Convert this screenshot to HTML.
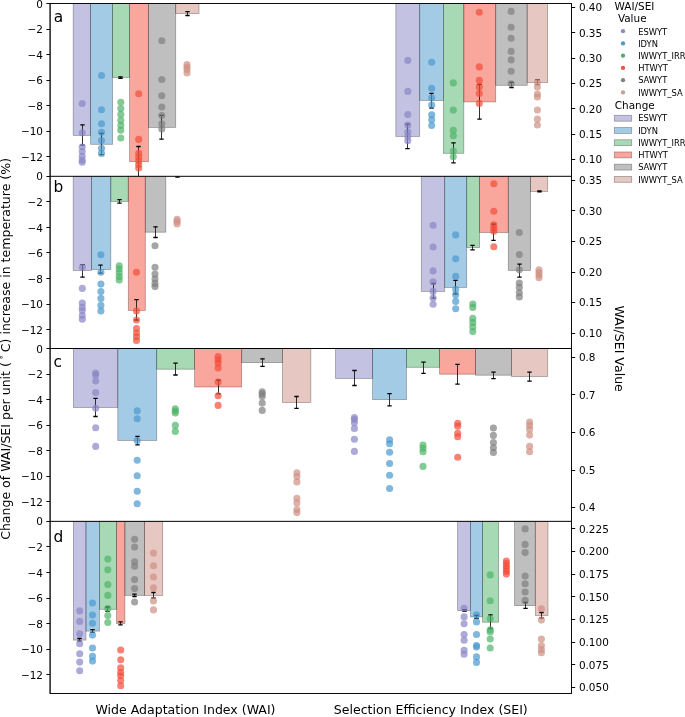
<!DOCTYPE html>
<html><head><meta charset="utf-8"><title>WAI/SEI change per unit temperature</title>
<style>html,body{margin:0;padding:0;background:#fff}svg{display:block}text{font-family:'DejaVu Sans','Liberation Sans',sans-serif;fill:#000}</style></head><body>
<svg width="685" height="717" viewBox="0 0 685 717">
<rect width="685" height="717" fill="#fff"/>
<clipPath id="cp0"><rect x="50.10" y="3.50" width="521.40" height="172.80"/></clipPath>
<g clip-path="url(#cp0)">
<rect x="73.20" y="3.50" width="17.40" height="131.90" fill="#8a86c6" fill-opacity="0.50" stroke="#000" stroke-opacity="0.33" stroke-width="0.8"/>
<rect x="90.60" y="3.50" width="22.00" height="140.80" fill="#4a98ce" fill-opacity="0.50" stroke="#000" stroke-opacity="0.33" stroke-width="0.8"/>
<rect x="112.60" y="3.50" width="17.00" height="74.00" fill="#4fb46a" fill-opacity="0.50" stroke="#000" stroke-opacity="0.33" stroke-width="0.8"/>
<rect x="129.60" y="3.50" width="18.80" height="158.20" fill="#f44d39" fill-opacity="0.50" stroke="#000" stroke-opacity="0.33" stroke-width="0.8"/>
<rect x="148.40" y="3.50" width="27.30" height="123.90" fill="#7f7f7f" fill-opacity="0.50" stroke="#000" stroke-opacity="0.33" stroke-width="0.8"/>
<rect x="175.70" y="3.50" width="23.30" height="10.00" fill="#cf9083" fill-opacity="0.50" stroke="#000" stroke-opacity="0.33" stroke-width="0.8"/>
<rect x="395.80" y="3.50" width="23.90" height="132.90" fill="#8a86c6" fill-opacity="0.50" stroke="#000" stroke-opacity="0.33" stroke-width="0.8"/>
<rect x="419.70" y="3.50" width="23.70" height="96.90" fill="#4a98ce" fill-opacity="0.50" stroke="#000" stroke-opacity="0.33" stroke-width="0.8"/>
<rect x="443.40" y="3.50" width="20.40" height="149.80" fill="#4fb46a" fill-opacity="0.50" stroke="#000" stroke-opacity="0.33" stroke-width="0.8"/>
<rect x="463.80" y="3.50" width="31.90" height="98.40" fill="#f44d39" fill-opacity="0.50" stroke="#000" stroke-opacity="0.33" stroke-width="0.8"/>
<rect x="495.70" y="3.50" width="31.50" height="81.80" fill="#7f7f7f" fill-opacity="0.50" stroke="#000" stroke-opacity="0.33" stroke-width="0.8"/>
<rect x="527.20" y="3.50" width="20.40" height="79.10" fill="#cf9083" fill-opacity="0.50" stroke="#000" stroke-opacity="0.33" stroke-width="0.8"/>
<path d="M82.50 124.90V145.20" stroke="#1a1a1a" stroke-width="0.9" fill="none"/>
<path d="M80.30 124.90h4.4M80.30 145.20h4.4" stroke="#000" stroke-width="1.3" fill="none"/>
<path d="M101.50 133.40V154.60" stroke="#1a1a1a" stroke-width="0.9" fill="none"/>
<path d="M99.30 133.40h4.4M99.30 154.60h4.4" stroke="#000" stroke-width="1.3" fill="none"/>
<path d="M120.50 76.80V78.40" stroke="#1a1a1a" stroke-width="0.9" fill="none"/>
<path d="M118.30 76.80h4.4M118.30 78.40h4.4" stroke="#000" stroke-width="1.3" fill="none"/>
<path d="M138.50 146.50V180.00" stroke="#1a1a1a" stroke-width="0.9" fill="none"/>
<path d="M136.30 146.50h4.4M136.30 180.00h4.4" stroke="#000" stroke-width="1.3" fill="none"/>
<path d="M161.50 115.30V139.20" stroke="#1a1a1a" stroke-width="0.9" fill="none"/>
<path d="M159.30 115.30h4.4M159.30 139.20h4.4" stroke="#000" stroke-width="1.3" fill="none"/>
<path d="M187.50 11.70V15.50" stroke="#1a1a1a" stroke-width="0.9" fill="none"/>
<path d="M185.30 11.70h4.4M185.30 15.50h4.4" stroke="#000" stroke-width="1.3" fill="none"/>
<path d="M407.50 124.10V148.60" stroke="#1a1a1a" stroke-width="0.9" fill="none"/>
<path d="M405.30 124.10h4.4M405.30 148.60h4.4" stroke="#000" stroke-width="1.3" fill="none"/>
<path d="M431.50 93.40V108.00" stroke="#1a1a1a" stroke-width="0.9" fill="none"/>
<path d="M429.30 93.40h4.4M429.30 108.00h4.4" stroke="#000" stroke-width="1.3" fill="none"/>
<path d="M453.50 142.80V162.90" stroke="#1a1a1a" stroke-width="0.9" fill="none"/>
<path d="M451.30 142.80h4.4M451.30 162.90h4.4" stroke="#000" stroke-width="1.3" fill="none"/>
<path d="M479.50 84.40V119.10" stroke="#1a1a1a" stroke-width="0.9" fill="none"/>
<path d="M477.30 84.40h4.4M477.30 119.10h4.4" stroke="#000" stroke-width="1.3" fill="none"/>
<path d="M511.50 82.30V87.60" stroke="#1a1a1a" stroke-width="0.9" fill="none"/>
<path d="M509.30 82.30h4.4M509.30 87.60h4.4" stroke="#000" stroke-width="1.3" fill="none"/>
<path d="M537.50 79.70V84.70" stroke="#1a1a1a" stroke-width="0.9" fill="none"/>
<path d="M535.30 79.70h4.4M535.30 84.70h4.4" stroke="#000" stroke-width="1.3" fill="none"/>
<circle cx="82.20" cy="103.50" r="3.55" fill="#8a86c6" fill-opacity="0.70"/>
<circle cx="82.20" cy="132.80" r="3.55" fill="#8a86c6" fill-opacity="0.70"/>
<circle cx="82.20" cy="147.00" r="3.55" fill="#8a86c6" fill-opacity="0.70"/>
<circle cx="82.20" cy="151.60" r="3.55" fill="#8a86c6" fill-opacity="0.70"/>
<circle cx="82.20" cy="156.20" r="3.55" fill="#8a86c6" fill-opacity="0.70"/>
<circle cx="82.20" cy="160.00" r="3.55" fill="#8a86c6" fill-opacity="0.70"/>
<circle cx="82.20" cy="162.30" r="3.55" fill="#8a86c6" fill-opacity="0.70"/>
<circle cx="101.50" cy="75.50" r="3.55" fill="#4a98ce" fill-opacity="0.70"/>
<circle cx="101.50" cy="109.70" r="3.55" fill="#4a98ce" fill-opacity="0.70"/>
<circle cx="101.50" cy="123.80" r="3.55" fill="#4a98ce" fill-opacity="0.70"/>
<circle cx="101.50" cy="132.30" r="3.55" fill="#4a98ce" fill-opacity="0.70"/>
<circle cx="101.50" cy="140.60" r="3.55" fill="#4a98ce" fill-opacity="0.70"/>
<circle cx="101.50" cy="148.20" r="3.55" fill="#4a98ce" fill-opacity="0.70"/>
<circle cx="101.50" cy="153.40" r="3.55" fill="#4a98ce" fill-opacity="0.70"/>
<circle cx="120.80" cy="102.30" r="3.55" fill="#4fb46a" fill-opacity="0.70"/>
<circle cx="120.80" cy="108.60" r="3.55" fill="#4fb46a" fill-opacity="0.70"/>
<circle cx="120.80" cy="114.40" r="3.55" fill="#4fb46a" fill-opacity="0.70"/>
<circle cx="120.80" cy="120.40" r="3.55" fill="#4fb46a" fill-opacity="0.70"/>
<circle cx="120.80" cy="125.60" r="3.55" fill="#4fb46a" fill-opacity="0.70"/>
<circle cx="120.80" cy="130.30" r="3.55" fill="#4fb46a" fill-opacity="0.70"/>
<circle cx="120.80" cy="138.00" r="3.55" fill="#4fb46a" fill-opacity="0.70"/>
<circle cx="138.70" cy="93.80" r="3.55" fill="#f44d39" fill-opacity="0.70"/>
<circle cx="138.70" cy="139.40" r="3.55" fill="#f44d39" fill-opacity="0.70"/>
<circle cx="138.70" cy="153.20" r="3.55" fill="#f44d39" fill-opacity="0.70"/>
<circle cx="138.70" cy="157.20" r="3.55" fill="#f44d39" fill-opacity="0.70"/>
<circle cx="138.70" cy="161.10" r="3.55" fill="#f44d39" fill-opacity="0.70"/>
<circle cx="138.70" cy="164.70" r="3.55" fill="#f44d39" fill-opacity="0.70"/>
<circle cx="138.70" cy="168.00" r="3.55" fill="#f44d39" fill-opacity="0.70"/>
<circle cx="161.80" cy="40.70" r="3.55" fill="#7f7f7f" fill-opacity="0.70"/>
<circle cx="161.80" cy="79.50" r="3.55" fill="#7f7f7f" fill-opacity="0.70"/>
<circle cx="161.80" cy="95.70" r="3.55" fill="#7f7f7f" fill-opacity="0.70"/>
<circle cx="161.80" cy="107.00" r="3.55" fill="#7f7f7f" fill-opacity="0.70"/>
<circle cx="161.80" cy="115.50" r="3.55" fill="#7f7f7f" fill-opacity="0.70"/>
<circle cx="161.80" cy="123.70" r="3.55" fill="#7f7f7f" fill-opacity="0.70"/>
<circle cx="161.80" cy="129.00" r="3.55" fill="#7f7f7f" fill-opacity="0.70"/>
<circle cx="187.00" cy="64.50" r="3.55" fill="#cf9083" fill-opacity="0.70"/>
<circle cx="187.00" cy="67.00" r="3.55" fill="#cf9083" fill-opacity="0.70"/>
<circle cx="187.00" cy="69.50" r="3.55" fill="#cf9083" fill-opacity="0.70"/>
<circle cx="187.00" cy="73.00" r="3.55" fill="#cf9083" fill-opacity="0.70"/>
<circle cx="407.80" cy="60.40" r="3.55" fill="#8a86c6" fill-opacity="0.70"/>
<circle cx="407.80" cy="91.40" r="3.55" fill="#8a86c6" fill-opacity="0.70"/>
<circle cx="407.80" cy="114.50" r="3.55" fill="#8a86c6" fill-opacity="0.70"/>
<circle cx="407.80" cy="125.00" r="3.55" fill="#8a86c6" fill-opacity="0.70"/>
<circle cx="407.80" cy="132.00" r="3.55" fill="#8a86c6" fill-opacity="0.70"/>
<circle cx="407.80" cy="136.60" r="3.55" fill="#8a86c6" fill-opacity="0.70"/>
<circle cx="407.80" cy="140.70" r="3.55" fill="#8a86c6" fill-opacity="0.70"/>
<circle cx="431.70" cy="62.20" r="3.55" fill="#4a98ce" fill-opacity="0.70"/>
<circle cx="431.70" cy="88.20" r="3.55" fill="#4a98ce" fill-opacity="0.70"/>
<circle cx="431.70" cy="97.80" r="3.55" fill="#4a98ce" fill-opacity="0.70"/>
<circle cx="431.70" cy="105.10" r="3.55" fill="#4a98ce" fill-opacity="0.70"/>
<circle cx="431.70" cy="114.70" r="3.55" fill="#4a98ce" fill-opacity="0.70"/>
<circle cx="431.70" cy="119.70" r="3.55" fill="#4a98ce" fill-opacity="0.70"/>
<circle cx="431.70" cy="125.50" r="3.55" fill="#4a98ce" fill-opacity="0.70"/>
<circle cx="453.30" cy="82.90" r="3.55" fill="#4fb46a" fill-opacity="0.70"/>
<circle cx="453.30" cy="110.10" r="3.55" fill="#4fb46a" fill-opacity="0.70"/>
<circle cx="453.30" cy="130.20" r="3.55" fill="#4fb46a" fill-opacity="0.70"/>
<circle cx="453.30" cy="135.80" r="3.55" fill="#4fb46a" fill-opacity="0.70"/>
<circle cx="453.30" cy="151.00" r="3.55" fill="#4fb46a" fill-opacity="0.70"/>
<circle cx="453.30" cy="156.80" r="3.55" fill="#4fb46a" fill-opacity="0.70"/>
<circle cx="479.30" cy="12.30" r="3.55" fill="#f44d39" fill-opacity="0.70"/>
<circle cx="479.30" cy="66.90" r="3.55" fill="#f44d39" fill-opacity="0.70"/>
<circle cx="479.30" cy="80.30" r="3.55" fill="#f44d39" fill-opacity="0.70"/>
<circle cx="479.30" cy="86.70" r="3.55" fill="#f44d39" fill-opacity="0.70"/>
<circle cx="479.30" cy="93.40" r="3.55" fill="#f44d39" fill-opacity="0.70"/>
<circle cx="479.30" cy="103.40" r="3.55" fill="#f44d39" fill-opacity="0.70"/>
<circle cx="511.10" cy="11.40" r="3.55" fill="#7f7f7f" fill-opacity="0.70"/>
<circle cx="511.10" cy="27.20" r="3.55" fill="#7f7f7f" fill-opacity="0.70"/>
<circle cx="511.10" cy="38.20" r="3.55" fill="#7f7f7f" fill-opacity="0.70"/>
<circle cx="511.10" cy="51.40" r="3.55" fill="#7f7f7f" fill-opacity="0.70"/>
<circle cx="511.10" cy="59.90" r="3.55" fill="#7f7f7f" fill-opacity="0.70"/>
<circle cx="511.10" cy="71.20" r="3.55" fill="#7f7f7f" fill-opacity="0.70"/>
<circle cx="511.10" cy="83.80" r="3.55" fill="#7f7f7f" fill-opacity="0.70"/>
<circle cx="537.40" cy="82.30" r="3.55" fill="#cf9083" fill-opacity="0.70"/>
<circle cx="537.40" cy="87.00" r="3.55" fill="#cf9083" fill-opacity="0.70"/>
<circle cx="537.40" cy="94.00" r="3.55" fill="#cf9083" fill-opacity="0.70"/>
<circle cx="537.40" cy="97.00" r="3.55" fill="#cf9083" fill-opacity="0.70"/>
<circle cx="537.40" cy="110.00" r="3.55" fill="#cf9083" fill-opacity="0.70"/>
<circle cx="537.40" cy="119.10" r="3.55" fill="#cf9083" fill-opacity="0.70"/>
<circle cx="537.40" cy="125.00" r="3.55" fill="#cf9083" fill-opacity="0.70"/>
</g>
<clipPath id="cp1"><rect x="50.10" y="176.30" width="521.40" height="172.20"/></clipPath>
<g clip-path="url(#cp1)">
<rect x="73.20" y="176.30" width="18.20" height="94.10" fill="#8a86c6" fill-opacity="0.50" stroke="#000" stroke-opacity="0.33" stroke-width="0.8"/>
<rect x="91.40" y="176.30" width="19.40" height="93.20" fill="#4a98ce" fill-opacity="0.50" stroke="#000" stroke-opacity="0.33" stroke-width="0.8"/>
<rect x="110.80" y="176.30" width="17.50" height="25.20" fill="#4fb46a" fill-opacity="0.50" stroke="#000" stroke-opacity="0.33" stroke-width="0.8"/>
<rect x="128.30" y="176.30" width="17.00" height="134.10" fill="#f44d39" fill-opacity="0.50" stroke="#000" stroke-opacity="0.33" stroke-width="0.8"/>
<rect x="145.30" y="176.30" width="20.50" height="55.90" fill="#7f7f7f" fill-opacity="0.50" stroke="#000" stroke-opacity="0.33" stroke-width="0.8"/>
<rect x="165.80" y="176.30" width="22.60" height="0.00" fill="#cf9083" fill-opacity="0.50" stroke="#000" stroke-opacity="0.33" stroke-width="0.8"/>
<rect x="421.30" y="176.30" width="23.40" height="115.10" fill="#8a86c6" fill-opacity="0.50" stroke="#000" stroke-opacity="0.33" stroke-width="0.8"/>
<rect x="444.70" y="176.30" width="22.00" height="111.10" fill="#4a98ce" fill-opacity="0.50" stroke="#000" stroke-opacity="0.33" stroke-width="0.8"/>
<rect x="466.70" y="176.30" width="12.90" height="71.20" fill="#4fb46a" fill-opacity="0.50" stroke="#000" stroke-opacity="0.33" stroke-width="0.8"/>
<rect x="479.60" y="176.30" width="28.70" height="56.20" fill="#f44d39" fill-opacity="0.50" stroke="#000" stroke-opacity="0.33" stroke-width="0.8"/>
<rect x="508.30" y="176.30" width="22.30" height="94.10" fill="#7f7f7f" fill-opacity="0.50" stroke="#000" stroke-opacity="0.33" stroke-width="0.8"/>
<rect x="530.60" y="176.30" width="17.10" height="15.20" fill="#cf9083" fill-opacity="0.50" stroke="#000" stroke-opacity="0.33" stroke-width="0.8"/>
<path d="M82.50 264.60V277.10" stroke="#1a1a1a" stroke-width="0.9" fill="none"/>
<path d="M80.30 264.60h4.4M80.30 277.10h4.4" stroke="#000" stroke-width="1.3" fill="none"/>
<path d="M100.50 265.10V273.10" stroke="#1a1a1a" stroke-width="0.9" fill="none"/>
<path d="M98.30 265.10h4.4M98.30 273.10h4.4" stroke="#000" stroke-width="1.3" fill="none"/>
<path d="M119.50 199.60V203.10" stroke="#1a1a1a" stroke-width="0.9" fill="none"/>
<path d="M117.30 199.60h4.4M117.30 203.10h4.4" stroke="#000" stroke-width="1.3" fill="none"/>
<path d="M136.50 299.70V320.00" stroke="#1a1a1a" stroke-width="0.9" fill="none"/>
<path d="M134.30 299.70h4.4M134.30 320.00h4.4" stroke="#000" stroke-width="1.3" fill="none"/>
<path d="M155.50 226.90V237.50" stroke="#1a1a1a" stroke-width="0.9" fill="none"/>
<path d="M153.30 226.90h4.4M153.30 237.50h4.4" stroke="#000" stroke-width="1.3" fill="none"/>
<path d="M177.50 175.50V177.20" stroke="#1a1a1a" stroke-width="0.9" fill="none"/>
<path d="M175.30 175.50h4.4M175.30 177.20h4.4" stroke="#000" stroke-width="1.3" fill="none"/>
<path d="M433.50 283.50V298.20" stroke="#1a1a1a" stroke-width="0.9" fill="none"/>
<path d="M431.30 283.50h4.4M431.30 298.20h4.4" stroke="#000" stroke-width="1.3" fill="none"/>
<path d="M455.50 280.40V294.00" stroke="#1a1a1a" stroke-width="0.9" fill="none"/>
<path d="M453.30 280.40h4.4M453.30 294.00h4.4" stroke="#000" stroke-width="1.3" fill="none"/>
<path d="M472.50 245.40V249.90" stroke="#1a1a1a" stroke-width="0.9" fill="none"/>
<path d="M470.30 245.40h4.4M470.30 249.90h4.4" stroke="#000" stroke-width="1.3" fill="none"/>
<path d="M493.50 224.10V240.40" stroke="#1a1a1a" stroke-width="0.9" fill="none"/>
<path d="M491.30 224.10h4.4M491.30 240.40h4.4" stroke="#000" stroke-width="1.3" fill="none"/>
<path d="M519.50 264.10V277.20" stroke="#1a1a1a" stroke-width="0.9" fill="none"/>
<path d="M517.30 264.10h4.4M517.30 277.20h4.4" stroke="#000" stroke-width="1.3" fill="none"/>
<path d="M539.50 191.00V191.90" stroke="#1a1a1a" stroke-width="0.9" fill="none"/>
<path d="M537.30 191.00h4.4M537.30 191.90h4.4" stroke="#000" stroke-width="1.3" fill="none"/>
<circle cx="82.30" cy="267.30" r="3.55" fill="#8a86c6" fill-opacity="0.70"/>
<circle cx="82.30" cy="288.40" r="3.55" fill="#8a86c6" fill-opacity="0.70"/>
<circle cx="82.30" cy="303.00" r="3.55" fill="#8a86c6" fill-opacity="0.70"/>
<circle cx="82.30" cy="307.40" r="3.55" fill="#8a86c6" fill-opacity="0.70"/>
<circle cx="82.30" cy="310.50" r="3.55" fill="#8a86c6" fill-opacity="0.70"/>
<circle cx="82.30" cy="315.50" r="3.55" fill="#8a86c6" fill-opacity="0.70"/>
<circle cx="82.30" cy="319.20" r="3.55" fill="#8a86c6" fill-opacity="0.70"/>
<circle cx="100.90" cy="254.80" r="3.55" fill="#4a98ce" fill-opacity="0.70"/>
<circle cx="100.90" cy="272.30" r="3.55" fill="#4a98ce" fill-opacity="0.70"/>
<circle cx="100.90" cy="284.10" r="3.55" fill="#4a98ce" fill-opacity="0.70"/>
<circle cx="100.90" cy="291.60" r="3.55" fill="#4a98ce" fill-opacity="0.70"/>
<circle cx="100.90" cy="298.40" r="3.55" fill="#4a98ce" fill-opacity="0.70"/>
<circle cx="100.90" cy="305.40" r="3.55" fill="#4a98ce" fill-opacity="0.70"/>
<circle cx="100.90" cy="311.00" r="3.55" fill="#4a98ce" fill-opacity="0.70"/>
<circle cx="119.20" cy="265.80" r="3.55" fill="#4fb46a" fill-opacity="0.70"/>
<circle cx="119.20" cy="269.00" r="3.55" fill="#4fb46a" fill-opacity="0.70"/>
<circle cx="119.20" cy="272.80" r="3.55" fill="#4fb46a" fill-opacity="0.70"/>
<circle cx="119.20" cy="276.60" r="3.55" fill="#4fb46a" fill-opacity="0.70"/>
<circle cx="119.20" cy="279.90" r="3.55" fill="#4fb46a" fill-opacity="0.70"/>
<circle cx="136.50" cy="272.30" r="3.55" fill="#f44d39" fill-opacity="0.70"/>
<circle cx="136.50" cy="311.00" r="3.55" fill="#f44d39" fill-opacity="0.70"/>
<circle cx="136.50" cy="320.00" r="3.55" fill="#f44d39" fill-opacity="0.70"/>
<circle cx="136.50" cy="328.50" r="3.55" fill="#f44d39" fill-opacity="0.70"/>
<circle cx="136.50" cy="333.00" r="3.55" fill="#f44d39" fill-opacity="0.70"/>
<circle cx="136.50" cy="336.80" r="3.55" fill="#f44d39" fill-opacity="0.70"/>
<circle cx="136.50" cy="340.50" r="3.55" fill="#f44d39" fill-opacity="0.70"/>
<circle cx="155.00" cy="245.70" r="3.55" fill="#7f7f7f" fill-opacity="0.70"/>
<circle cx="155.00" cy="267.30" r="3.55" fill="#7f7f7f" fill-opacity="0.70"/>
<circle cx="155.00" cy="274.10" r="3.55" fill="#7f7f7f" fill-opacity="0.70"/>
<circle cx="155.00" cy="279.10" r="3.55" fill="#7f7f7f" fill-opacity="0.70"/>
<circle cx="155.00" cy="283.40" r="3.55" fill="#7f7f7f" fill-opacity="0.70"/>
<circle cx="155.00" cy="286.60" r="3.55" fill="#7f7f7f" fill-opacity="0.70"/>
<circle cx="177.10" cy="219.40" r="3.55" fill="#cf9083" fill-opacity="0.70"/>
<circle cx="177.10" cy="221.40" r="3.55" fill="#cf9083" fill-opacity="0.70"/>
<circle cx="177.10" cy="223.90" r="3.55" fill="#cf9083" fill-opacity="0.70"/>
<circle cx="433.10" cy="225.20" r="3.55" fill="#8a86c6" fill-opacity="0.70"/>
<circle cx="433.10" cy="247.00" r="3.55" fill="#8a86c6" fill-opacity="0.70"/>
<circle cx="433.10" cy="270.90" r="3.55" fill="#8a86c6" fill-opacity="0.70"/>
<circle cx="433.10" cy="281.70" r="3.55" fill="#8a86c6" fill-opacity="0.70"/>
<circle cx="433.10" cy="291.40" r="3.55" fill="#8a86c6" fill-opacity="0.70"/>
<circle cx="433.10" cy="298.00" r="3.55" fill="#8a86c6" fill-opacity="0.70"/>
<circle cx="433.10" cy="304.30" r="3.55" fill="#8a86c6" fill-opacity="0.70"/>
<circle cx="455.70" cy="234.90" r="3.55" fill="#4a98ce" fill-opacity="0.70"/>
<circle cx="455.70" cy="258.80" r="3.55" fill="#4a98ce" fill-opacity="0.70"/>
<circle cx="455.70" cy="276.40" r="3.55" fill="#4a98ce" fill-opacity="0.70"/>
<circle cx="455.70" cy="289.50" r="3.55" fill="#4a98ce" fill-opacity="0.70"/>
<circle cx="455.70" cy="294.80" r="3.55" fill="#4a98ce" fill-opacity="0.70"/>
<circle cx="455.70" cy="301.40" r="3.55" fill="#4a98ce" fill-opacity="0.70"/>
<circle cx="455.70" cy="308.70" r="3.55" fill="#4a98ce" fill-opacity="0.70"/>
<circle cx="472.80" cy="304.00" r="3.55" fill="#4fb46a" fill-opacity="0.70"/>
<circle cx="472.80" cy="307.40" r="3.55" fill="#4fb46a" fill-opacity="0.70"/>
<circle cx="472.80" cy="318.40" r="3.55" fill="#4fb46a" fill-opacity="0.70"/>
<circle cx="472.80" cy="322.40" r="3.55" fill="#4fb46a" fill-opacity="0.70"/>
<circle cx="472.80" cy="326.90" r="3.55" fill="#4fb46a" fill-opacity="0.70"/>
<circle cx="472.80" cy="331.60" r="3.55" fill="#4fb46a" fill-opacity="0.70"/>
<circle cx="493.80" cy="183.70" r="3.55" fill="#f44d39" fill-opacity="0.70"/>
<circle cx="493.80" cy="211.30" r="3.55" fill="#f44d39" fill-opacity="0.70"/>
<circle cx="493.80" cy="224.70" r="3.55" fill="#f44d39" fill-opacity="0.70"/>
<circle cx="493.80" cy="228.30" r="3.55" fill="#f44d39" fill-opacity="0.70"/>
<circle cx="493.80" cy="231.20" r="3.55" fill="#f44d39" fill-opacity="0.70"/>
<circle cx="493.80" cy="246.70" r="3.55" fill="#f44d39" fill-opacity="0.70"/>
<circle cx="519.30" cy="232.50" r="3.55" fill="#7f7f7f" fill-opacity="0.70"/>
<circle cx="519.30" cy="254.60" r="3.55" fill="#7f7f7f" fill-opacity="0.70"/>
<circle cx="519.30" cy="269.80" r="3.55" fill="#7f7f7f" fill-opacity="0.70"/>
<circle cx="519.30" cy="283.00" r="3.55" fill="#7f7f7f" fill-opacity="0.70"/>
<circle cx="519.30" cy="287.40" r="3.55" fill="#7f7f7f" fill-opacity="0.70"/>
<circle cx="519.30" cy="292.70" r="3.55" fill="#7f7f7f" fill-opacity="0.70"/>
<circle cx="519.30" cy="296.90" r="3.55" fill="#7f7f7f" fill-opacity="0.70"/>
<circle cx="539.00" cy="269.80" r="3.55" fill="#cf9083" fill-opacity="0.70"/>
<circle cx="539.00" cy="272.50" r="3.55" fill="#cf9083" fill-opacity="0.70"/>
<circle cx="539.00" cy="275.10" r="3.55" fill="#cf9083" fill-opacity="0.70"/>
<circle cx="539.00" cy="277.70" r="3.55" fill="#cf9083" fill-opacity="0.70"/>
</g>
<clipPath id="cp2"><rect x="50.10" y="348.50" width="521.40" height="172.85"/></clipPath>
<g clip-path="url(#cp2)">
<rect x="73.40" y="348.50" width="44.40" height="59.00" fill="#8a86c6" fill-opacity="0.50" stroke="#000" stroke-opacity="0.33" stroke-width="0.8"/>
<rect x="117.80" y="348.50" width="38.90" height="91.90" fill="#4a98ce" fill-opacity="0.50" stroke="#000" stroke-opacity="0.33" stroke-width="0.8"/>
<rect x="156.70" y="348.50" width="37.90" height="20.70" fill="#4fb46a" fill-opacity="0.50" stroke="#000" stroke-opacity="0.33" stroke-width="0.8"/>
<rect x="194.60" y="348.50" width="47.10" height="38.50" fill="#f44d39" fill-opacity="0.50" stroke="#000" stroke-opacity="0.33" stroke-width="0.8"/>
<rect x="241.70" y="348.50" width="40.80" height="14.10" fill="#7f7f7f" fill-opacity="0.50" stroke="#000" stroke-opacity="0.33" stroke-width="0.8"/>
<rect x="282.50" y="348.50" width="28.30" height="54.00" fill="#cf9083" fill-opacity="0.50" stroke="#000" stroke-opacity="0.33" stroke-width="0.8"/>
<rect x="335.50" y="348.50" width="37.10" height="29.90" fill="#8a86c6" fill-opacity="0.50" stroke="#000" stroke-opacity="0.33" stroke-width="0.8"/>
<rect x="372.60" y="348.50" width="33.80" height="51.10" fill="#4a98ce" fill-opacity="0.50" stroke="#000" stroke-opacity="0.33" stroke-width="0.8"/>
<rect x="406.40" y="348.50" width="33.20" height="18.80" fill="#4fb46a" fill-opacity="0.50" stroke="#000" stroke-opacity="0.33" stroke-width="0.8"/>
<rect x="439.60" y="348.50" width="36.00" height="25.70" fill="#f44d39" fill-opacity="0.50" stroke="#000" stroke-opacity="0.33" stroke-width="0.8"/>
<rect x="475.60" y="348.50" width="35.90" height="26.70" fill="#7f7f7f" fill-opacity="0.50" stroke="#000" stroke-opacity="0.33" stroke-width="0.8"/>
<rect x="511.50" y="348.50" width="36.20" height="28.00" fill="#cf9083" fill-opacity="0.50" stroke="#000" stroke-opacity="0.33" stroke-width="0.8"/>
<path d="M95.50 398.30V416.50" stroke="#1a1a1a" stroke-width="0.9" fill="none"/>
<path d="M93.30 398.30h4.4M93.30 416.50h4.4" stroke="#000" stroke-width="1.3" fill="none"/>
<path d="M137.50 436.40V444.80" stroke="#1a1a1a" stroke-width="0.9" fill="none"/>
<path d="M135.30 436.40h4.4M135.30 444.80h4.4" stroke="#000" stroke-width="1.3" fill="none"/>
<path d="M175.50 363.10V375.00" stroke="#1a1a1a" stroke-width="0.9" fill="none"/>
<path d="M173.30 363.10h4.4M173.30 375.00h4.4" stroke="#000" stroke-width="1.3" fill="none"/>
<path d="M218.50 380.20V393.90" stroke="#1a1a1a" stroke-width="0.9" fill="none"/>
<path d="M216.30 380.20h4.4M216.30 393.90h4.4" stroke="#000" stroke-width="1.3" fill="none"/>
<path d="M262.50 358.90V366.30" stroke="#1a1a1a" stroke-width="0.9" fill="none"/>
<path d="M260.30 358.90h4.4M260.30 366.30h4.4" stroke="#000" stroke-width="1.3" fill="none"/>
<path d="M296.50 396.50V408.30" stroke="#1a1a1a" stroke-width="0.9" fill="none"/>
<path d="M294.30 396.50h4.4M294.30 408.30h4.4" stroke="#000" stroke-width="1.3" fill="none"/>
<path d="M354.50 370.50V385.50" stroke="#1a1a1a" stroke-width="0.9" fill="none"/>
<path d="M352.30 370.50h4.4M352.30 385.50h4.4" stroke="#000" stroke-width="1.3" fill="none"/>
<path d="M389.50 393.60V405.90" stroke="#1a1a1a" stroke-width="0.9" fill="none"/>
<path d="M387.30 393.60h4.4M387.30 405.90h4.4" stroke="#000" stroke-width="1.3" fill="none"/>
<path d="M423.50 362.10V373.40" stroke="#1a1a1a" stroke-width="0.9" fill="none"/>
<path d="M421.30 362.10h4.4M421.30 373.40h4.4" stroke="#000" stroke-width="1.3" fill="none"/>
<path d="M457.50 364.40V384.10" stroke="#1a1a1a" stroke-width="0.9" fill="none"/>
<path d="M455.30 364.40h4.4M455.30 384.10h4.4" stroke="#000" stroke-width="1.3" fill="none"/>
<path d="M493.50 372.10V378.60" stroke="#1a1a1a" stroke-width="0.9" fill="none"/>
<path d="M491.30 372.10h4.4M491.30 378.60h4.4" stroke="#000" stroke-width="1.3" fill="none"/>
<path d="M529.50 372.10V381.20" stroke="#1a1a1a" stroke-width="0.9" fill="none"/>
<path d="M527.30 372.10h4.4M527.30 381.20h4.4" stroke="#000" stroke-width="1.3" fill="none"/>
<circle cx="95.70" cy="373.10" r="3.55" fill="#8a86c6" fill-opacity="0.70"/>
<circle cx="95.70" cy="375.00" r="3.55" fill="#8a86c6" fill-opacity="0.70"/>
<circle cx="95.70" cy="381.00" r="3.55" fill="#8a86c6" fill-opacity="0.70"/>
<circle cx="95.70" cy="392.50" r="3.55" fill="#8a86c6" fill-opacity="0.70"/>
<circle cx="95.70" cy="408.30" r="3.55" fill="#8a86c6" fill-opacity="0.70"/>
<circle cx="95.70" cy="427.80" r="3.55" fill="#8a86c6" fill-opacity="0.70"/>
<circle cx="95.70" cy="446.40" r="3.55" fill="#8a86c6" fill-opacity="0.70"/>
<circle cx="137.20" cy="410.90" r="3.55" fill="#4a98ce" fill-opacity="0.70"/>
<circle cx="137.20" cy="418.80" r="3.55" fill="#4a98ce" fill-opacity="0.70"/>
<circle cx="137.20" cy="440.60" r="3.55" fill="#4a98ce" fill-opacity="0.70"/>
<circle cx="137.20" cy="460.30" r="3.55" fill="#4a98ce" fill-opacity="0.70"/>
<circle cx="137.20" cy="475.80" r="3.55" fill="#4a98ce" fill-opacity="0.70"/>
<circle cx="137.20" cy="491.30" r="3.55" fill="#4a98ce" fill-opacity="0.70"/>
<circle cx="137.20" cy="503.70" r="3.55" fill="#4a98ce" fill-opacity="0.70"/>
<circle cx="175.30" cy="408.80" r="3.55" fill="#4fb46a" fill-opacity="0.70"/>
<circle cx="175.30" cy="411.00" r="3.55" fill="#4fb46a" fill-opacity="0.70"/>
<circle cx="175.30" cy="413.00" r="3.55" fill="#4fb46a" fill-opacity="0.70"/>
<circle cx="175.30" cy="425.40" r="3.55" fill="#4fb46a" fill-opacity="0.70"/>
<circle cx="175.30" cy="431.40" r="3.55" fill="#4fb46a" fill-opacity="0.70"/>
<circle cx="218.10" cy="356.60" r="3.55" fill="#f44d39" fill-opacity="0.70"/>
<circle cx="218.10" cy="359.70" r="3.55" fill="#f44d39" fill-opacity="0.70"/>
<circle cx="218.10" cy="363.10" r="3.55" fill="#f44d39" fill-opacity="0.70"/>
<circle cx="218.10" cy="367.90" r="3.55" fill="#f44d39" fill-opacity="0.70"/>
<circle cx="218.10" cy="382.00" r="3.55" fill="#f44d39" fill-opacity="0.70"/>
<circle cx="218.10" cy="395.70" r="3.55" fill="#f44d39" fill-opacity="0.70"/>
<circle cx="218.10" cy="405.40" r="3.55" fill="#f44d39" fill-opacity="0.70"/>
<circle cx="262.20" cy="391.80" r="3.55" fill="#7f7f7f" fill-opacity="0.70"/>
<circle cx="262.20" cy="393.90" r="3.55" fill="#7f7f7f" fill-opacity="0.70"/>
<circle cx="262.20" cy="396.50" r="3.55" fill="#7f7f7f" fill-opacity="0.70"/>
<circle cx="262.20" cy="403.10" r="3.55" fill="#7f7f7f" fill-opacity="0.70"/>
<circle cx="262.20" cy="410.40" r="3.55" fill="#7f7f7f" fill-opacity="0.70"/>
<circle cx="296.90" cy="472.70" r="3.55" fill="#cf9083" fill-opacity="0.70"/>
<circle cx="296.90" cy="476.60" r="3.55" fill="#cf9083" fill-opacity="0.70"/>
<circle cx="296.90" cy="481.90" r="3.55" fill="#cf9083" fill-opacity="0.70"/>
<circle cx="296.90" cy="498.20" r="3.55" fill="#cf9083" fill-opacity="0.70"/>
<circle cx="296.90" cy="502.90" r="3.55" fill="#cf9083" fill-opacity="0.70"/>
<circle cx="296.90" cy="509.50" r="3.55" fill="#cf9083" fill-opacity="0.70"/>
<circle cx="296.90" cy="512.60" r="3.55" fill="#cf9083" fill-opacity="0.70"/>
<circle cx="354.40" cy="417.50" r="3.55" fill="#8a86c6" fill-opacity="0.70"/>
<circle cx="354.40" cy="419.60" r="3.55" fill="#8a86c6" fill-opacity="0.70"/>
<circle cx="354.40" cy="422.80" r="3.55" fill="#8a86c6" fill-opacity="0.70"/>
<circle cx="354.40" cy="428.50" r="3.55" fill="#8a86c6" fill-opacity="0.70"/>
<circle cx="354.40" cy="439.30" r="3.55" fill="#8a86c6" fill-opacity="0.70"/>
<circle cx="354.40" cy="451.40" r="3.55" fill="#8a86c6" fill-opacity="0.70"/>
<circle cx="389.60" cy="439.80" r="3.55" fill="#4a98ce" fill-opacity="0.70"/>
<circle cx="389.60" cy="443.80" r="3.55" fill="#4a98ce" fill-opacity="0.70"/>
<circle cx="389.60" cy="452.20" r="3.55" fill="#4a98ce" fill-opacity="0.70"/>
<circle cx="389.60" cy="463.50" r="3.55" fill="#4a98ce" fill-opacity="0.70"/>
<circle cx="389.60" cy="475.30" r="3.55" fill="#4a98ce" fill-opacity="0.70"/>
<circle cx="389.60" cy="488.50" r="3.55" fill="#4a98ce" fill-opacity="0.70"/>
<circle cx="423.00" cy="445.10" r="3.55" fill="#4fb46a" fill-opacity="0.70"/>
<circle cx="423.00" cy="448.30" r="3.55" fill="#4fb46a" fill-opacity="0.70"/>
<circle cx="423.00" cy="451.70" r="3.55" fill="#4fb46a" fill-opacity="0.70"/>
<circle cx="423.00" cy="466.40" r="3.55" fill="#4fb46a" fill-opacity="0.70"/>
<circle cx="457.70" cy="423.30" r="3.55" fill="#f44d39" fill-opacity="0.70"/>
<circle cx="457.70" cy="426.20" r="3.55" fill="#f44d39" fill-opacity="0.70"/>
<circle cx="457.70" cy="433.30" r="3.55" fill="#f44d39" fill-opacity="0.70"/>
<circle cx="457.70" cy="436.70" r="3.55" fill="#f44d39" fill-opacity="0.70"/>
<circle cx="457.70" cy="457.20" r="3.55" fill="#f44d39" fill-opacity="0.70"/>
<circle cx="493.40" cy="428.00" r="3.55" fill="#7f7f7f" fill-opacity="0.70"/>
<circle cx="493.40" cy="435.40" r="3.55" fill="#7f7f7f" fill-opacity="0.70"/>
<circle cx="493.40" cy="442.50" r="3.55" fill="#7f7f7f" fill-opacity="0.70"/>
<circle cx="493.40" cy="447.70" r="3.55" fill="#7f7f7f" fill-opacity="0.70"/>
<circle cx="493.40" cy="452.50" r="3.55" fill="#7f7f7f" fill-opacity="0.70"/>
<circle cx="529.60" cy="422.00" r="3.55" fill="#cf9083" fill-opacity="0.70"/>
<circle cx="529.60" cy="425.40" r="3.55" fill="#cf9083" fill-opacity="0.70"/>
<circle cx="529.60" cy="429.30" r="3.55" fill="#cf9083" fill-opacity="0.70"/>
<circle cx="529.60" cy="435.10" r="3.55" fill="#cf9083" fill-opacity="0.70"/>
<circle cx="529.60" cy="446.40" r="3.55" fill="#cf9083" fill-opacity="0.70"/>
<circle cx="529.60" cy="451.70" r="3.55" fill="#cf9083" fill-opacity="0.70"/>
</g>
<clipPath id="cp3"><rect x="50.10" y="521.35" width="521.40" height="172.15"/></clipPath>
<g clip-path="url(#cp3)">
<rect x="73.40" y="521.35" width="12.60" height="118.75" fill="#8a86c6" fill-opacity="0.50" stroke="#000" stroke-opacity="0.33" stroke-width="0.8"/>
<rect x="86.00" y="521.35" width="13.40" height="109.75" fill="#4a98ce" fill-opacity="0.50" stroke="#000" stroke-opacity="0.33" stroke-width="0.8"/>
<rect x="99.40" y="521.35" width="17.10" height="87.95" fill="#4fb46a" fill-opacity="0.50" stroke="#000" stroke-opacity="0.33" stroke-width="0.8"/>
<rect x="116.50" y="521.35" width="8.40" height="102.15" fill="#f44d39" fill-opacity="0.50" stroke="#000" stroke-opacity="0.33" stroke-width="0.8"/>
<rect x="124.90" y="521.35" width="19.70" height="74.05" fill="#7f7f7f" fill-opacity="0.50" stroke="#000" stroke-opacity="0.33" stroke-width="0.8"/>
<rect x="144.60" y="521.35" width="18.10" height="74.05" fill="#cf9083" fill-opacity="0.50" stroke="#000" stroke-opacity="0.33" stroke-width="0.8"/>
<rect x="457.60" y="521.35" width="12.80" height="89.25" fill="#8a86c6" fill-opacity="0.50" stroke="#000" stroke-opacity="0.33" stroke-width="0.8"/>
<rect x="470.40" y="521.35" width="12.10" height="95.55" fill="#4a98ce" fill-opacity="0.50" stroke="#000" stroke-opacity="0.33" stroke-width="0.8"/>
<rect x="482.50" y="521.35" width="16.10" height="100.85" fill="#4fb46a" fill-opacity="0.50" stroke="#000" stroke-opacity="0.33" stroke-width="0.8"/>
<rect x="514.60" y="521.35" width="20.70" height="84.25" fill="#7f7f7f" fill-opacity="0.50" stroke="#000" stroke-opacity="0.33" stroke-width="0.8"/>
<rect x="535.30" y="521.35" width="12.70" height="94.05" fill="#cf9083" fill-opacity="0.50" stroke="#000" stroke-opacity="0.33" stroke-width="0.8"/>
<path d="M79.50 638.50V641.10" stroke="#1a1a1a" stroke-width="0.9" fill="none"/>
<path d="M77.30 638.50h4.4M77.30 641.10h4.4" stroke="#000" stroke-width="1.3" fill="none"/>
<path d="M92.50 629.60V632.40" stroke="#1a1a1a" stroke-width="0.9" fill="none"/>
<path d="M90.30 629.60h4.4M90.30 632.40h4.4" stroke="#000" stroke-width="1.3" fill="none"/>
<path d="M107.50 607.00V611.40" stroke="#1a1a1a" stroke-width="0.9" fill="none"/>
<path d="M105.30 607.00h4.4M105.30 611.40h4.4" stroke="#000" stroke-width="1.3" fill="none"/>
<path d="M120.50 621.90V624.80" stroke="#1a1a1a" stroke-width="0.9" fill="none"/>
<path d="M118.30 621.90h4.4M118.30 624.80h4.4" stroke="#000" stroke-width="1.3" fill="none"/>
<path d="M134.50 594.10V596.50" stroke="#1a1a1a" stroke-width="0.9" fill="none"/>
<path d="M132.30 594.10h4.4M132.30 596.50h4.4" stroke="#000" stroke-width="1.3" fill="none"/>
<path d="M153.50 592.50V598.00" stroke="#1a1a1a" stroke-width="0.9" fill="none"/>
<path d="M151.30 592.50h4.4M151.30 598.00h4.4" stroke="#000" stroke-width="1.3" fill="none"/>
<path d="M464.50 609.60V611.40" stroke="#1a1a1a" stroke-width="0.9" fill="none"/>
<path d="M462.30 609.60h4.4M462.30 611.40h4.4" stroke="#000" stroke-width="1.3" fill="none"/>
<path d="M476.50 615.40V618.30" stroke="#1a1a1a" stroke-width="0.9" fill="none"/>
<path d="M474.30 615.40h4.4M474.30 618.30h4.4" stroke="#000" stroke-width="1.3" fill="none"/>
<path d="M490.50 614.80V628.50" stroke="#1a1a1a" stroke-width="0.9" fill="none"/>
<path d="M488.30 614.80h4.4M488.30 628.50h4.4" stroke="#000" stroke-width="1.3" fill="none"/>
<path d="M525.50 602.50V608.30" stroke="#1a1a1a" stroke-width="0.9" fill="none"/>
<path d="M523.30 602.50h4.4M523.30 608.30h4.4" stroke="#000" stroke-width="1.3" fill="none"/>
<path d="M541.50 612.50V618.00" stroke="#1a1a1a" stroke-width="0.9" fill="none"/>
<path d="M539.30 612.50h4.4M539.30 618.00h4.4" stroke="#000" stroke-width="1.3" fill="none"/>
<circle cx="79.70" cy="610.90" r="3.55" fill="#8a86c6" fill-opacity="0.70"/>
<circle cx="79.70" cy="621.40" r="3.55" fill="#8a86c6" fill-opacity="0.70"/>
<circle cx="79.70" cy="633.80" r="3.55" fill="#8a86c6" fill-opacity="0.70"/>
<circle cx="79.70" cy="643.70" r="3.55" fill="#8a86c6" fill-opacity="0.70"/>
<circle cx="79.70" cy="653.70" r="3.55" fill="#8a86c6" fill-opacity="0.70"/>
<circle cx="79.70" cy="662.10" r="3.55" fill="#8a86c6" fill-opacity="0.70"/>
<circle cx="79.70" cy="670.80" r="3.55" fill="#8a86c6" fill-opacity="0.70"/>
<circle cx="92.50" cy="603.00" r="3.55" fill="#4a98ce" fill-opacity="0.70"/>
<circle cx="92.50" cy="615.10" r="3.55" fill="#4a98ce" fill-opacity="0.70"/>
<circle cx="92.50" cy="623.30" r="3.55" fill="#4a98ce" fill-opacity="0.70"/>
<circle cx="92.50" cy="635.10" r="3.55" fill="#4a98ce" fill-opacity="0.70"/>
<circle cx="92.50" cy="648.00" r="3.55" fill="#4a98ce" fill-opacity="0.70"/>
<circle cx="92.50" cy="656.40" r="3.55" fill="#4a98ce" fill-opacity="0.70"/>
<circle cx="92.50" cy="661.10" r="3.55" fill="#4a98ce" fill-opacity="0.70"/>
<circle cx="107.80" cy="559.10" r="3.55" fill="#4fb46a" fill-opacity="0.70"/>
<circle cx="107.80" cy="569.70" r="3.55" fill="#4fb46a" fill-opacity="0.70"/>
<circle cx="107.80" cy="584.60" r="3.55" fill="#4fb46a" fill-opacity="0.70"/>
<circle cx="107.80" cy="595.40" r="3.55" fill="#4fb46a" fill-opacity="0.70"/>
<circle cx="107.80" cy="608.50" r="3.55" fill="#4fb46a" fill-opacity="0.70"/>
<circle cx="107.80" cy="615.60" r="3.55" fill="#4fb46a" fill-opacity="0.70"/>
<circle cx="107.80" cy="622.50" r="3.55" fill="#4fb46a" fill-opacity="0.70"/>
<circle cx="120.70" cy="650.00" r="3.55" fill="#f44d39" fill-opacity="0.70"/>
<circle cx="120.70" cy="659.80" r="3.55" fill="#f44d39" fill-opacity="0.70"/>
<circle cx="120.70" cy="667.90" r="3.55" fill="#f44d39" fill-opacity="0.70"/>
<circle cx="120.70" cy="672.60" r="3.55" fill="#f44d39" fill-opacity="0.70"/>
<circle cx="120.70" cy="675.80" r="3.55" fill="#f44d39" fill-opacity="0.70"/>
<circle cx="120.70" cy="680.50" r="3.55" fill="#f44d39" fill-opacity="0.70"/>
<circle cx="120.70" cy="685.80" r="3.55" fill="#f44d39" fill-opacity="0.70"/>
<circle cx="134.60" cy="539.20" r="3.55" fill="#7f7f7f" fill-opacity="0.70"/>
<circle cx="134.60" cy="547.10" r="3.55" fill="#7f7f7f" fill-opacity="0.70"/>
<circle cx="134.60" cy="561.80" r="3.55" fill="#7f7f7f" fill-opacity="0.70"/>
<circle cx="134.60" cy="566.20" r="3.55" fill="#7f7f7f" fill-opacity="0.70"/>
<circle cx="134.60" cy="579.60" r="3.55" fill="#7f7f7f" fill-opacity="0.70"/>
<circle cx="134.60" cy="588.60" r="3.55" fill="#7f7f7f" fill-opacity="0.70"/>
<circle cx="134.60" cy="602.00" r="3.55" fill="#7f7f7f" fill-opacity="0.70"/>
<circle cx="153.50" cy="553.10" r="3.55" fill="#cf9083" fill-opacity="0.70"/>
<circle cx="153.50" cy="565.70" r="3.55" fill="#cf9083" fill-opacity="0.70"/>
<circle cx="153.50" cy="577.00" r="3.55" fill="#cf9083" fill-opacity="0.70"/>
<circle cx="153.50" cy="587.80" r="3.55" fill="#cf9083" fill-opacity="0.70"/>
<circle cx="153.50" cy="600.90" r="3.55" fill="#cf9083" fill-opacity="0.70"/>
<circle cx="153.50" cy="609.90" r="3.55" fill="#cf9083" fill-opacity="0.70"/>
<circle cx="464.10" cy="608.30" r="3.55" fill="#8a86c6" fill-opacity="0.70"/>
<circle cx="464.10" cy="616.90" r="3.55" fill="#8a86c6" fill-opacity="0.70"/>
<circle cx="464.10" cy="623.80" r="3.55" fill="#8a86c6" fill-opacity="0.70"/>
<circle cx="464.10" cy="634.50" r="3.55" fill="#8a86c6" fill-opacity="0.70"/>
<circle cx="464.10" cy="640.30" r="3.55" fill="#8a86c6" fill-opacity="0.70"/>
<circle cx="464.10" cy="650.30" r="3.55" fill="#8a86c6" fill-opacity="0.70"/>
<circle cx="464.10" cy="654.30" r="3.55" fill="#8a86c6" fill-opacity="0.70"/>
<circle cx="476.50" cy="614.80" r="3.55" fill="#4a98ce" fill-opacity="0.70"/>
<circle cx="476.50" cy="621.90" r="3.55" fill="#4a98ce" fill-opacity="0.70"/>
<circle cx="476.50" cy="634.50" r="3.55" fill="#4a98ce" fill-opacity="0.70"/>
<circle cx="476.50" cy="645.60" r="3.55" fill="#4a98ce" fill-opacity="0.70"/>
<circle cx="476.50" cy="646.90" r="3.55" fill="#4a98ce" fill-opacity="0.70"/>
<circle cx="476.50" cy="656.90" r="3.55" fill="#4a98ce" fill-opacity="0.70"/>
<circle cx="476.50" cy="662.40" r="3.55" fill="#4a98ce" fill-opacity="0.70"/>
<circle cx="490.20" cy="574.90" r="3.55" fill="#4fb46a" fill-opacity="0.70"/>
<circle cx="490.20" cy="600.70" r="3.55" fill="#4fb46a" fill-opacity="0.70"/>
<circle cx="490.20" cy="618.80" r="3.55" fill="#4fb46a" fill-opacity="0.70"/>
<circle cx="490.20" cy="629.80" r="3.55" fill="#4fb46a" fill-opacity="0.70"/>
<circle cx="490.20" cy="631.90" r="3.55" fill="#4fb46a" fill-opacity="0.70"/>
<circle cx="490.20" cy="639.00" r="3.55" fill="#4fb46a" fill-opacity="0.70"/>
<circle cx="490.20" cy="648.00" r="3.55" fill="#4fb46a" fill-opacity="0.70"/>
<circle cx="506.40" cy="561.00" r="3.55" fill="#f44d39" fill-opacity="0.70"/>
<circle cx="506.40" cy="563.60" r="3.55" fill="#f44d39" fill-opacity="0.70"/>
<circle cx="506.40" cy="566.20" r="3.55" fill="#f44d39" fill-opacity="0.70"/>
<circle cx="506.40" cy="568.90" r="3.55" fill="#f44d39" fill-opacity="0.70"/>
<circle cx="506.40" cy="571.50" r="3.55" fill="#f44d39" fill-opacity="0.70"/>
<circle cx="506.40" cy="574.10" r="3.55" fill="#f44d39" fill-opacity="0.70"/>
<circle cx="525.10" cy="528.90" r="3.55" fill="#7f7f7f" fill-opacity="0.70"/>
<circle cx="525.10" cy="544.40" r="3.55" fill="#7f7f7f" fill-opacity="0.70"/>
<circle cx="525.10" cy="552.60" r="3.55" fill="#7f7f7f" fill-opacity="0.70"/>
<circle cx="525.10" cy="576.00" r="3.55" fill="#7f7f7f" fill-opacity="0.70"/>
<circle cx="525.10" cy="583.80" r="3.55" fill="#7f7f7f" fill-opacity="0.70"/>
<circle cx="525.10" cy="592.00" r="3.55" fill="#7f7f7f" fill-opacity="0.70"/>
<circle cx="525.10" cy="600.40" r="3.55" fill="#7f7f7f" fill-opacity="0.70"/>
<circle cx="541.40" cy="608.80" r="3.55" fill="#cf9083" fill-opacity="0.70"/>
<circle cx="541.40" cy="620.10" r="3.55" fill="#cf9083" fill-opacity="0.70"/>
<circle cx="541.40" cy="639.00" r="3.55" fill="#cf9083" fill-opacity="0.70"/>
<circle cx="541.40" cy="645.60" r="3.55" fill="#cf9083" fill-opacity="0.70"/>
<circle cx="541.40" cy="649.50" r="3.55" fill="#cf9083" fill-opacity="0.70"/>
<circle cx="541.40" cy="652.70" r="3.55" fill="#cf9083" fill-opacity="0.70"/>
</g>
<rect x="50.10" y="3.50" width="521.40" height="690.00" fill="none" stroke="#000" stroke-width="0.95"/>
<path d="M50.10 3.50V693.50" stroke="#000" stroke-width="1.2" stroke-opacity="0.6"/>
<path d="M50.10 176.30H571.50" stroke="#000" stroke-width="1"/>
<path d="M50.10 348.50H571.50" stroke="#000" stroke-width="1"/>
<path d="M50.10 521.35H571.50" stroke="#000" stroke-width="1"/>
<path d="M50.10 3.50h-3.7" stroke="#000" stroke-width="0.95"/>
<text x="43.0" y="7.60" font-size="10.45" text-anchor="end">0</text>
<path d="M50.10 29.50h-3.7" stroke="#000" stroke-width="0.95"/>
<text x="43.0" y="33.16" font-size="10.45" text-anchor="end">−2</text>
<path d="M50.10 54.50h-3.7" stroke="#000" stroke-width="0.95"/>
<text x="43.0" y="58.72" font-size="10.45" text-anchor="end">−4</text>
<path d="M50.10 80.50h-3.7" stroke="#000" stroke-width="0.95"/>
<text x="43.0" y="84.28" font-size="10.45" text-anchor="end">−6</text>
<path d="M50.10 105.50h-3.7" stroke="#000" stroke-width="0.95"/>
<text x="43.0" y="109.84" font-size="10.45" text-anchor="end">−8</text>
<path d="M50.10 131.50h-3.7" stroke="#000" stroke-width="0.95"/>
<text x="43.0" y="135.40" font-size="10.45" text-anchor="end">−10</text>
<path d="M50.10 156.50h-3.7" stroke="#000" stroke-width="0.95"/>
<text x="43.0" y="160.96" font-size="10.45" text-anchor="end">−12</text>
<path d="M50.10 176.50h-3.7" stroke="#000" stroke-width="0.95"/>
<text x="43.0" y="180.40" font-size="10.45" text-anchor="end">0</text>
<path d="M50.10 201.50h-3.7" stroke="#000" stroke-width="0.95"/>
<text x="43.0" y="205.96" font-size="10.45" text-anchor="end">−2</text>
<path d="M50.10 227.50h-3.7" stroke="#000" stroke-width="0.95"/>
<text x="43.0" y="231.52" font-size="10.45" text-anchor="end">−4</text>
<path d="M50.10 252.50h-3.7" stroke="#000" stroke-width="0.95"/>
<text x="43.0" y="257.08" font-size="10.45" text-anchor="end">−6</text>
<path d="M50.10 278.50h-3.7" stroke="#000" stroke-width="0.95"/>
<text x="43.0" y="282.64" font-size="10.45" text-anchor="end">−8</text>
<path d="M50.10 304.50h-3.7" stroke="#000" stroke-width="0.95"/>
<text x="43.0" y="308.20" font-size="10.45" text-anchor="end">−10</text>
<path d="M50.10 329.50h-3.7" stroke="#000" stroke-width="0.95"/>
<text x="43.0" y="333.76" font-size="10.45" text-anchor="end">−12</text>
<path d="M50.10 348.50h-3.7" stroke="#000" stroke-width="0.95"/>
<text x="43.0" y="352.60" font-size="10.45" text-anchor="end">0</text>
<path d="M50.10 374.50h-3.7" stroke="#000" stroke-width="0.95"/>
<text x="43.0" y="378.16" font-size="10.45" text-anchor="end">−2</text>
<path d="M50.10 399.50h-3.7" stroke="#000" stroke-width="0.95"/>
<text x="43.0" y="403.72" font-size="10.45" text-anchor="end">−4</text>
<path d="M50.10 425.50h-3.7" stroke="#000" stroke-width="0.95"/>
<text x="43.0" y="429.28" font-size="10.45" text-anchor="end">−6</text>
<path d="M50.10 450.50h-3.7" stroke="#000" stroke-width="0.95"/>
<text x="43.0" y="454.84" font-size="10.45" text-anchor="end">−8</text>
<path d="M50.10 476.50h-3.7" stroke="#000" stroke-width="0.95"/>
<text x="43.0" y="480.40" font-size="10.45" text-anchor="end">−10</text>
<path d="M50.10 501.50h-3.7" stroke="#000" stroke-width="0.95"/>
<text x="43.0" y="505.96" font-size="10.45" text-anchor="end">−12</text>
<path d="M50.10 521.50h-3.7" stroke="#000" stroke-width="0.95"/>
<text x="43.0" y="525.45" font-size="10.45" text-anchor="end">0</text>
<path d="M50.10 546.50h-3.7" stroke="#000" stroke-width="0.95"/>
<text x="43.0" y="551.01" font-size="10.45" text-anchor="end">−2</text>
<path d="M50.10 572.50h-3.7" stroke="#000" stroke-width="0.95"/>
<text x="43.0" y="576.57" font-size="10.45" text-anchor="end">−4</text>
<path d="M50.10 598.50h-3.7" stroke="#000" stroke-width="0.95"/>
<text x="43.0" y="602.13" font-size="10.45" text-anchor="end">−6</text>
<path d="M50.10 623.50h-3.7" stroke="#000" stroke-width="0.95"/>
<text x="43.0" y="627.69" font-size="10.45" text-anchor="end">−8</text>
<path d="M50.10 649.50h-3.7" stroke="#000" stroke-width="0.95"/>
<text x="43.0" y="653.25" font-size="10.45" text-anchor="end">−10</text>
<path d="M50.10 674.50h-3.7" stroke="#000" stroke-width="0.95"/>
<text x="43.0" y="678.81" font-size="10.45" text-anchor="end">−12</text>
<path d="M571.50 7.50h3.7" stroke="#000" stroke-width="0.95"/>
<text x="578.9" y="11.25" font-size="10.45">0.40</text>
<path d="M571.50 32.50h3.7" stroke="#000" stroke-width="0.95"/>
<text x="578.9" y="36.60" font-size="10.45">0.35</text>
<path d="M571.50 58.50h3.7" stroke="#000" stroke-width="0.95"/>
<text x="578.9" y="62.00" font-size="10.45">0.30</text>
<path d="M571.50 83.50h3.7" stroke="#000" stroke-width="0.95"/>
<text x="578.9" y="87.35" font-size="10.45">0.25</text>
<path d="M571.50 108.50h3.7" stroke="#000" stroke-width="0.95"/>
<text x="578.9" y="112.70" font-size="10.45">0.20</text>
<path d="M571.50 134.50h3.7" stroke="#000" stroke-width="0.95"/>
<text x="578.9" y="138.10" font-size="10.45">0.15</text>
<path d="M571.50 159.50h3.7" stroke="#000" stroke-width="0.95"/>
<text x="578.9" y="163.45" font-size="10.45">0.10</text>
<path d="M571.50 180.50h3.7" stroke="#000" stroke-width="0.95"/>
<text x="578.9" y="184.20" font-size="10.45">0.35</text>
<path d="M571.50 210.50h3.7" stroke="#000" stroke-width="0.95"/>
<text x="578.9" y="214.70" font-size="10.45">0.30</text>
<path d="M571.50 241.50h3.7" stroke="#000" stroke-width="0.95"/>
<text x="578.9" y="245.25" font-size="10.45">0.25</text>
<path d="M571.50 272.50h3.7" stroke="#000" stroke-width="0.95"/>
<text x="578.9" y="275.80" font-size="10.45">0.20</text>
<path d="M571.50 302.50h3.7" stroke="#000" stroke-width="0.95"/>
<text x="578.9" y="306.30" font-size="10.45">0.15</text>
<path d="M571.50 333.50h3.7" stroke="#000" stroke-width="0.95"/>
<text x="578.9" y="336.85" font-size="10.45">0.10</text>
<path d="M571.50 357.50h3.7" stroke="#000" stroke-width="0.95"/>
<text x="578.9" y="360.80" font-size="10.45">0.8</text>
<path d="M571.50 394.50h3.7" stroke="#000" stroke-width="0.95"/>
<text x="578.9" y="398.50" font-size="10.45">0.7</text>
<path d="M571.50 432.50h3.7" stroke="#000" stroke-width="0.95"/>
<text x="578.9" y="436.15" font-size="10.45">0.6</text>
<path d="M571.50 470.50h3.7" stroke="#000" stroke-width="0.95"/>
<text x="578.9" y="473.80" font-size="10.45">0.5</text>
<path d="M571.50 507.50h3.7" stroke="#000" stroke-width="0.95"/>
<text x="578.9" y="511.40" font-size="10.45">0.4</text>
<path d="M571.50 528.50h3.7" stroke="#000" stroke-width="0.95"/>
<text x="578.9" y="532.50" font-size="10.45">0.225</text>
<path d="M571.50 551.50h3.7" stroke="#000" stroke-width="0.95"/>
<text x="578.9" y="555.20" font-size="10.45">0.200</text>
<path d="M571.50 574.50h3.7" stroke="#000" stroke-width="0.95"/>
<text x="578.9" y="577.90" font-size="10.45">0.175</text>
<path d="M571.50 596.50h3.7" stroke="#000" stroke-width="0.95"/>
<text x="578.9" y="600.60" font-size="10.45">0.150</text>
<path d="M571.50 619.50h3.7" stroke="#000" stroke-width="0.95"/>
<text x="578.9" y="623.30" font-size="10.45">0.125</text>
<path d="M571.50 642.50h3.7" stroke="#000" stroke-width="0.95"/>
<text x="578.9" y="646.00" font-size="10.45">0.100</text>
<path d="M571.50 664.50h3.7" stroke="#000" stroke-width="0.95"/>
<text x="578.9" y="668.70" font-size="10.45">0.075</text>
<path d="M571.50 687.50h3.7" stroke="#000" stroke-width="0.95"/>
<text x="578.9" y="691.40" font-size="10.45">0.050</text>
<text x="53.70" y="22.00" font-size="15.4">a</text>
<text x="53.40" y="191.70" font-size="15.4">b</text>
<text x="53.40" y="366.80" font-size="15.4">c</text>
<text x="53.40" y="541.60" font-size="15.4">d</text>
<text x="185.5" y="714.1" font-size="12.54" text-anchor="middle">Wide Adaptation Index (WAI)</text>
<text x="430.8" y="714.1" font-size="12.54" text-anchor="middle">Selection Efficiency Index (SEI)</text>
<text transform="translate(9.95 348.9) rotate(-90)" font-size="12.54" text-anchor="middle">Change of WAI/SEI per unit (<tspan font-size="8.78" dx="2.1" dy="-6.0">∘</tspan><tspan dx="2.3" dy="6.0">C) increase in temperature (%)</tspan></text>
<text transform="translate(614.5 348.7) rotate(90)" font-size="12.54" text-anchor="middle">WAI/SEI Value</text>
<text x="614.6" y="10.3" font-size="10.45">WAI/SEI</text>
<text x="617.9" y="21.6" font-size="10.45">Value</text>
<circle cx="623.0" cy="31.20" r="2.15" fill="#8f88c4"/>
<text x="638.15" y="34.75" font-size="8.36">ESWYT</text>
<circle cx="623.0" cy="43.45" r="2.15" fill="#4f99c6"/>
<text x="638.15" y="46.92" font-size="8.36">IDYN</text>
<circle cx="623.0" cy="55.70" r="2.15" fill="#55ab6b"/>
<text x="638.15" y="59.09" font-size="8.36">IWWYT_IRR</text>
<circle cx="623.0" cy="67.95" r="2.15" fill="#e2564c"/>
<text x="638.15" y="71.26" font-size="8.36">HTWYT</text>
<circle cx="623.0" cy="80.20" r="2.15" fill="#828282"/>
<text x="638.15" y="83.43" font-size="8.36">SAWYT</text>
<circle cx="623.0" cy="92.45" r="2.15" fill="#c99d96"/>
<text x="638.15" y="95.60" font-size="8.36">IWWYT_SA</text>
<text x="614.8" y="108.7" font-size="10.45">Change</text>
<rect x="614.3" y="115.30" width="17.4" height="5.9" fill="#8a86c6" fill-opacity="0.5" stroke="#000" stroke-opacity="0.33" stroke-width="0.8"/>
<text x="638.15" y="121.45" font-size="8.36">ESWYT</text>
<rect x="614.3" y="127.52" width="17.4" height="5.9" fill="#4a98ce" fill-opacity="0.5" stroke="#000" stroke-opacity="0.33" stroke-width="0.8"/>
<text x="638.15" y="133.67" font-size="8.36">IDYN</text>
<rect x="614.3" y="139.74" width="17.4" height="5.9" fill="#4fb46a" fill-opacity="0.5" stroke="#000" stroke-opacity="0.33" stroke-width="0.8"/>
<text x="638.15" y="145.89" font-size="8.36">IWWYT_IRR</text>
<rect x="614.3" y="151.96" width="17.4" height="5.9" fill="#f44d39" fill-opacity="0.5" stroke="#000" stroke-opacity="0.33" stroke-width="0.8"/>
<text x="638.15" y="158.11" font-size="8.36">HTWYT</text>
<rect x="614.3" y="164.18" width="17.4" height="5.9" fill="#7f7f7f" fill-opacity="0.5" stroke="#000" stroke-opacity="0.33" stroke-width="0.8"/>
<text x="638.15" y="170.33" font-size="8.36">SAWYT</text>
<rect x="614.3" y="176.40" width="17.4" height="5.9" fill="#cf9083" fill-opacity="0.5" stroke="#000" stroke-opacity="0.33" stroke-width="0.8"/>
<text x="638.15" y="182.55" font-size="8.36">IWWYT_SA</text>
</svg></body></html>
